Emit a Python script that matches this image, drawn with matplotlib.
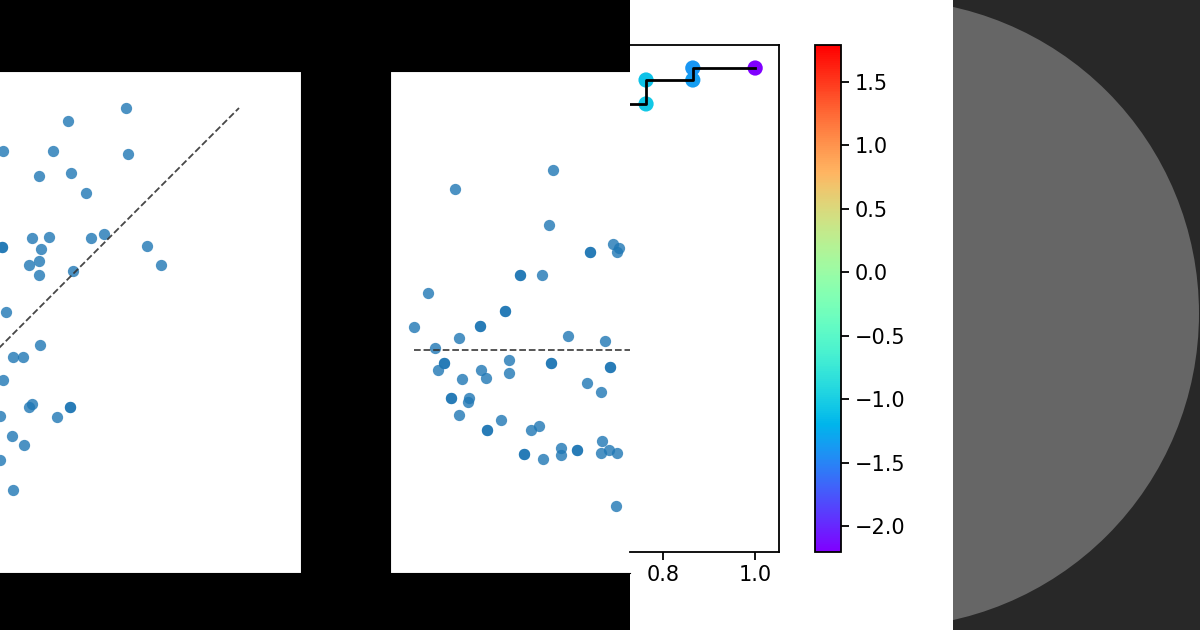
import matplotlib
matplotlib.use("Agg")
import matplotlib.pyplot as plt
from matplotlib.patches import Rectangle, Circle
from matplotlib.colors import Normalize

W, H = 1200, 630

# panel 1: predicted vs actual (left part cropped)
p1_x = [8.80, 7.35, 5.725, 6.975, 8.85, 6.625, 7.425, 7.80, 6.45, 6.875, 7.925, 8.25,
        9.325, 5.70, 5.70, 6.675, 6.625, 6.375, 9.675, 6.625, 7.475, 5.80, 6.65, 5.975,
        6.225, 5.725, 6.45, 6.375, 7.40, 7.40, 5.65, 7.075, 5.95, 6.25, 5.65, 5.975]
p1_y = [11.625, 11.29, 10.55, 10.55, 10.475, 9.925, 9.99, 9.50, 8.375, 8.40, 8.375, 8.475,
        8.175, 8.14, 8.14, 8.11, 7.80, 7.70, 7.70, 7.45, 7.55, 6.525, 5.70, 5.40,
        5.40, 4.825, 4.225, 4.15, 4.15, 4.15, 3.925, 3.90, 3.425, 3.20, 2.825, 2.075]

# panel 2: residuals
p2_x = [3.61, 3.95, 4.62, 4.125, 4.20, 4.35, 4.35, 4.725, 4.80, 4.525, 4.525, 4.725,
        4.94, 4.975, 5.25, 5.25, 5.275, 5.39, 5.42, 5.42, 5.77, 5.87, 5.87, 5.975,
        5.975, 6.25, 6.25, 6.35, 6.35, 6.525, 6.725, 6.80, 6.825, 6.975, 7.02, 7.02,
        7.075, 7.275, 7.275, 7.45, 7.675, 7.675, 7.925, 8.0, 8.0, 8.27, 8.27, 8.30,
        8.375, 8.47, 8.49, 8.49, 8.57, 8.675, 8.675, 8.72, 8.64]
p2_r = [0.575, 1.425, 4.025, 0.0625, -0.49, -0.325, -0.325, 0.30, -0.715, -1.20, -1.20, -1.625,
        -1.30, -1.20, 0.6125, 0.6125, -0.4875, -0.69, -2.0, -2.0, -1.76, 0.98, 0.98, -0.24,
        -0.575, 1.875, 1.875, -2.59, -2.59, -2.0, -1.90, 1.875, -2.715, 3.125, -0.32, -0.32,
        4.49, -2.46, -2.615, 0.35, -2.50, -2.50, -0.825, 2.46, 2.46, -1.05, -2.575, -2.27,
        0.215, -2.49, -0.425, -0.425, 2.65, -2.575, 2.45, 2.55, -3.90]

# step curve coloured by score
step_x = [0.68, 0.762, 0.762, 0.864, 0.864, 1.0]
step_y = [0.922, 0.922, 0.974, 0.974, 1.0, 1.0]
step_c = [-0.8, -1.05, -1.1, -1.35, -1.4, -2.2]
c_min, c_max = -2.2, 1.79
cbar_ticks = [-2.0, -1.5, -1.0, -0.5, 0.0, 0.5, 1.0, 1.5]


def box(x0, y0, x1, y1):
    return [x0 / W, 1 - y1 / H, (x1 - x0) / W, (y1 - y0) / H]


fig = plt.figure(figsize=(12, 6.3), dpi=100, facecolor="black")

blue = "#1f77b4"

# panel 1
ax1 = fig.add_axes(box(0, 71, 301, 573))
ax1.scatter(p1_x, p1_y, s=66, color=blue, alpha=0.8, linewidths=0)
lo = min(min(p1_x), min(p1_y))
hi = max(max(p1_x), max(p1_y))
ax1.plot([lo, hi], [lo, hi], "--", color="#333333", lw=1.3, alpha=0.9)
ax1.set_xlim(5.65, 13.175)
ax1.set_ylim(0, 12.55)
ax1.set_xticks([])
ax1.set_yticks([])
ax1.spines["left"].set_visible(False)

# panel 2
ax2 = fig.add_axes(box(390, 71, 630, 573))
ax2.scatter(p2_x, p2_r, s=66, color=blue, alpha=0.8, linewidths=0)
ax2.set_xlim(3.0, 9.0)
ax2.set_ylim(-5.575, 6.975)
ax2.hlines(0, min(p2_x), 10, colors="#333333", linestyles="--", lw=1.3, alpha=0.9)
ax2.set_xticks([])
ax2.set_yticks([])
ax2.spines["right"].set_visible(False)

# white strip behind the step plot
fig.add_artist(Rectangle((630 / W, 0), 323 / W, 1, transform=fig.transFigure,
                         facecolor="white", edgecolor="none", zorder=0))

ax3 = fig.add_axes(box(630, 45, 779, 551.5))
norm = Normalize(vmin=c_min, vmax=c_max)
ax3.plot(step_x, step_y, color="black", lw=2, zorder=2)
sc = ax3.scatter(step_x, step_y, c=step_c, cmap="rainbow", norm=norm, s=120,
                 linewidths=0, zorder=1)
ax3.set_xlim(0.727, 1.052)
ax3.set_ylim(-0.05, 1.05)
ax3.set_xticks([0.8, 1.0])
ax3.set_yticks([])
ax3.spines["left"].set_visible(False)
for s in ax3.spines.values():
    s.set_linewidth(1.3)
ax3.tick_params(axis="x", labelsize=15, length=6, width=1.3, pad=4)

cax = fig.add_axes(box(814.5, 45, 840.5, 551.5))
cb = fig.colorbar(sc, cax=cax)
cb.set_ticks(cbar_ticks)
cb.outline.set_linewidth(1.3)
cax.tick_params(labelsize=15, length=6, width=1.3, pad=4)

# dark strip with grey disc
ax4 = fig.add_axes(box(953, 0, 1200, 630))
ax4.set_facecolor("#282828")
ax4.set_xlim(953, 1200)
ax4.set_ylim(630, 0)
ax4.add_patch(Circle((885, 313.5), 314, facecolor="#666666", edgecolor="none"))
ax4.set_xticks([])
ax4.set_yticks([])
for s in ax4.spines.values():
    s.set_visible(False)

fig.savefig("out.png", dpi=100, facecolor="black")
